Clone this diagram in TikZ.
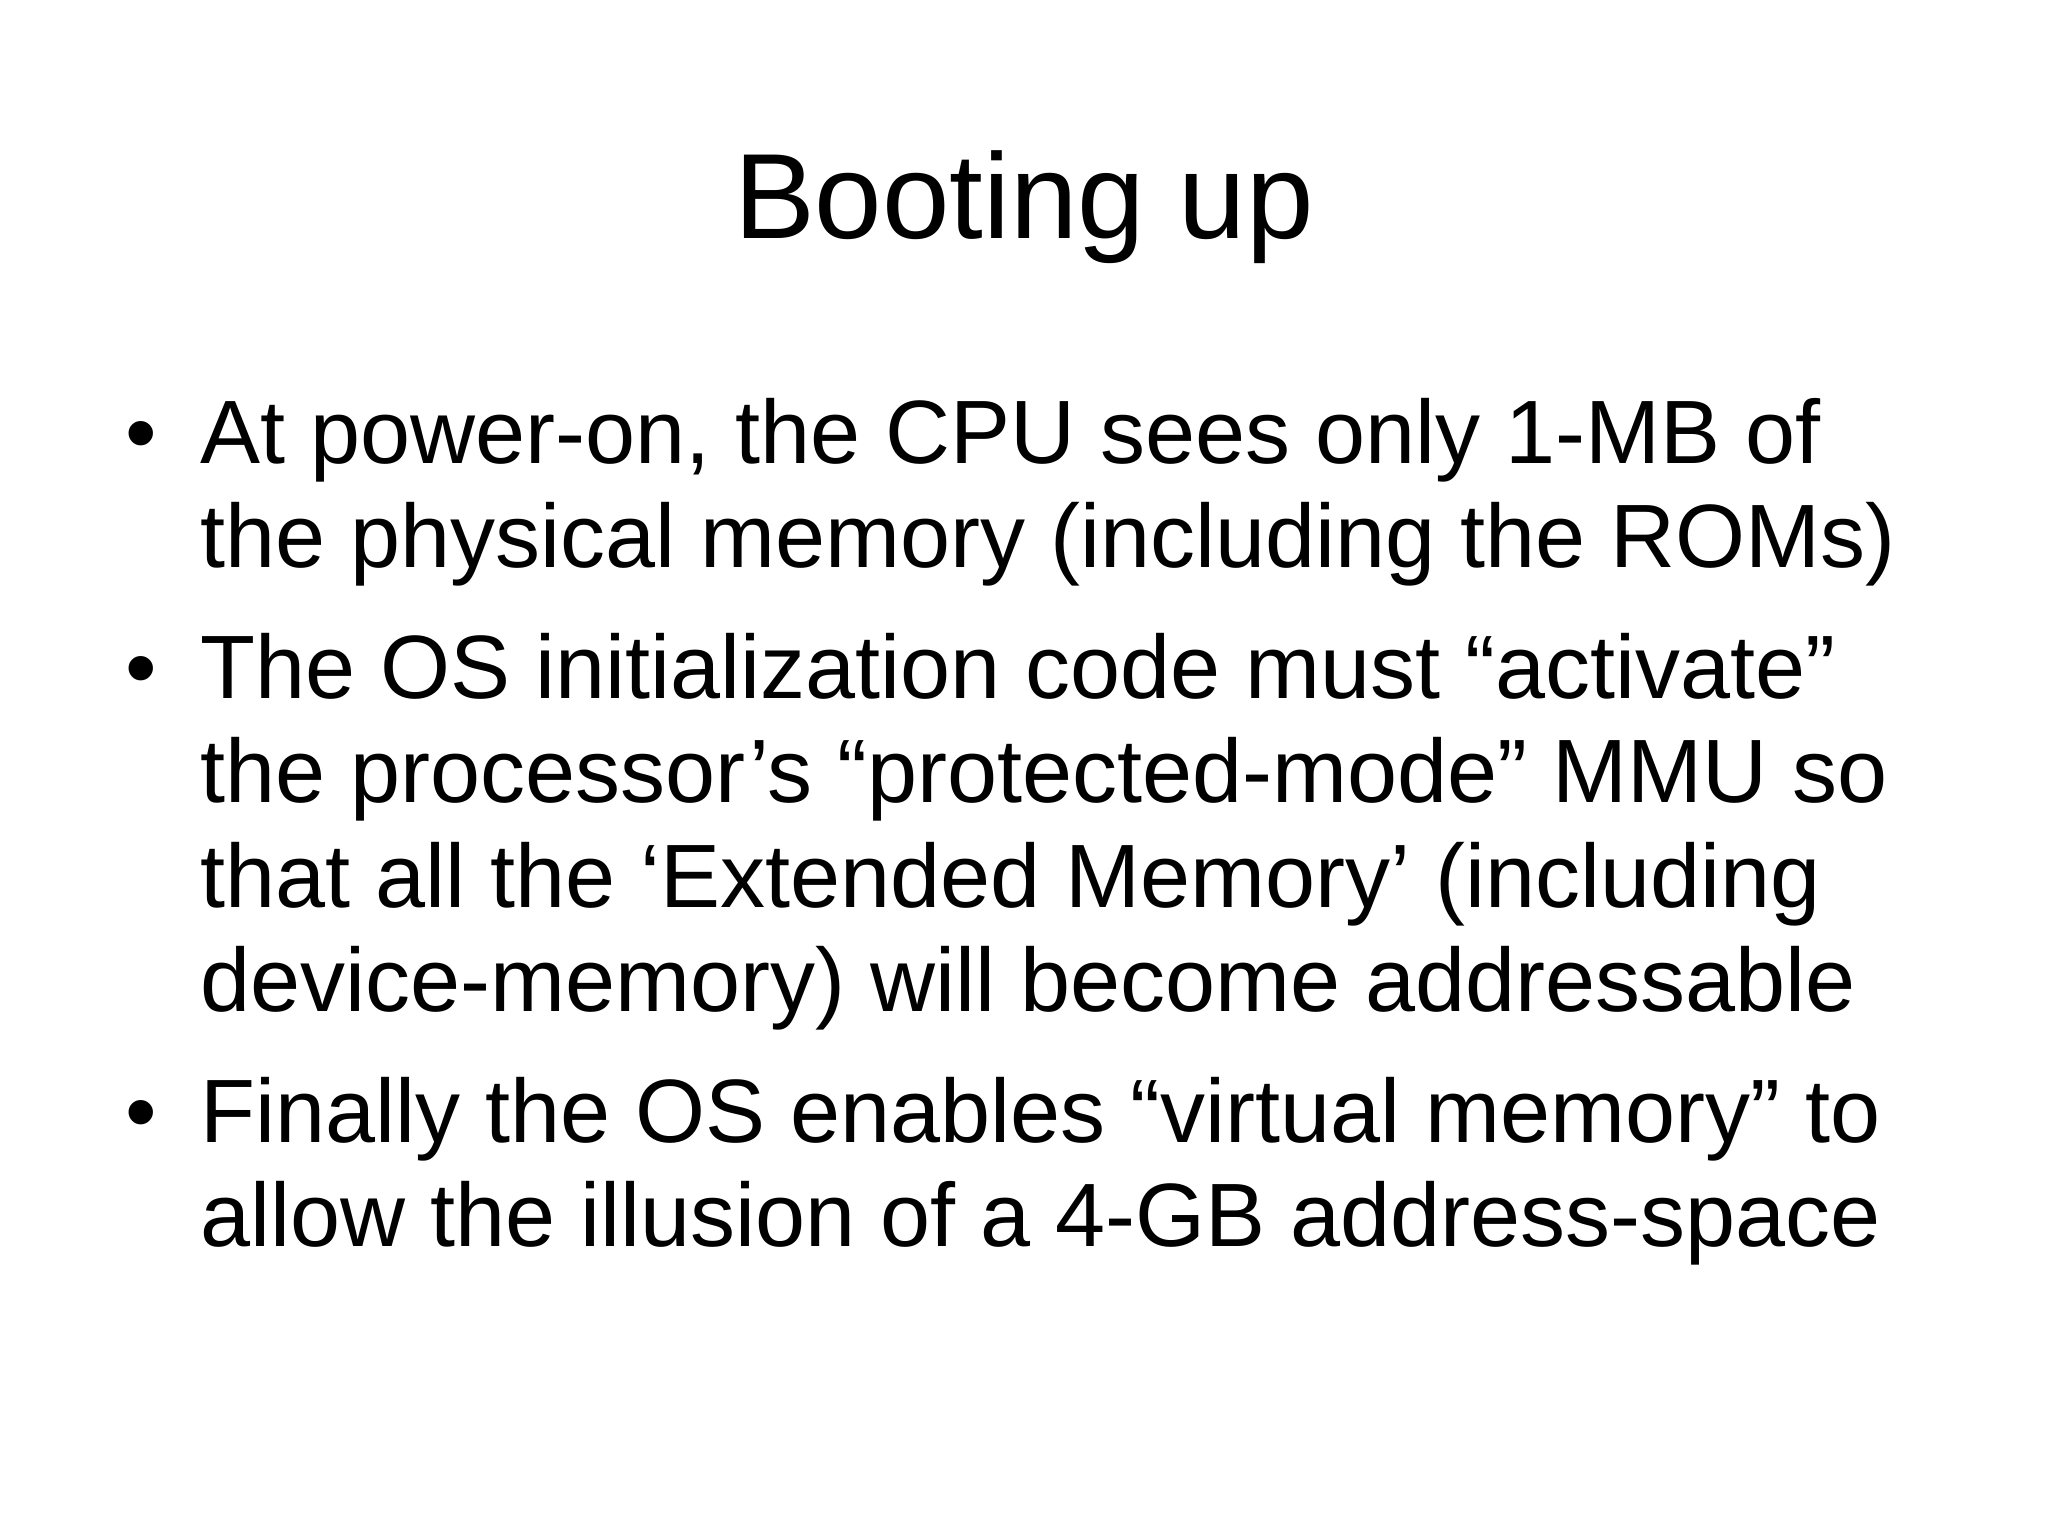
\documentclass[tikz,border=0pt]{standalone}
\usepackage{fontspec}
\setmainfont{Liberation Sans}
\begin{document}
\begin{tikzpicture}
\useasboundingbox (0,0) rectangle (20.48,15.36);
\tikzset{line/.style={anchor=base west,inner sep=0pt,font=\fontsize{25.6pt}{30pt}\selectfont},
 bul/.style={anchor=base west,inner sep=0pt,font=\fontsize{25.6pt}{30pt}\selectfont}}
\node[anchor=base,inner sep=0pt,font=\fontsize{34.5pt}{40pt}\selectfont] (title) at (10.24,12.97) {Booting up};
\node[bul] (b1) at (1.25,10.72) {•};
\node[bul] (b2) at (1.25,8.37) {•};
\node[bul] (b3) at (1.25,3.93) {•};
\node[line] (l1) at (2.0,10.72) {At power-on, the CPU sees only 1-MB of};
\node[line] (l2) at (2.0,9.68) {the physical memory (including the ROMs)};
\node[line] (l3) at (2.0,8.37) {The OS initialization code must “activate”};
\node[line] (l4) at (2.0,7.33) {the processor’s “protected-mode” MMU so};
\node[line] (l5) at (2.0,6.28) {that all the ‘Extended Memory’ (including};
\node[line] (l6) at (2.0,5.24) {device-memory) will become addressable};
\node[line] (l7) at (2.0,3.93) {Finally the OS enables “virtual memory” to};
\node[line] (l8) at (2.0,2.89) {allow the illusion of a 4-GB address-space};
\end{tikzpicture}
\end{document}
